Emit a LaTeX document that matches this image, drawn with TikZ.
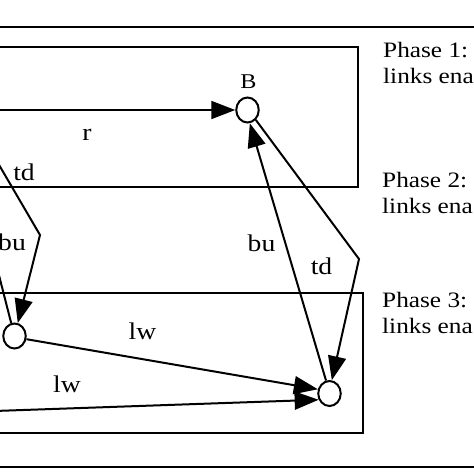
\documentclass[tikz,border=0pt]{standalone}
\usepackage{fontspec}
\setmainfont{Liberation Serif}[FakeStretch=1.15]
\usetikzlibrary{arrows.meta,shapes.geometric}
\begin{document}
\begin{tikzpicture}[x=1pt,y=-1pt,
  frame/.style={draw, line width=2.2pt},
  vertex/.style={draw, ellipse, line width=2pt, minimum width=22.5pt, minimum height=25pt, inner sep=0pt},
  edge/.style={line width=2pt, -{Triangle[length=24pt,width=18pt]}},
  plain/.style={line width=2pt},
  elabel/.style={font=\fontsize{24}{28}\selectfont, inner sep=0pt, anchor=base},
  phase/.style={font=\fontsize{22}{26}\selectfont, inner sep=0pt, anchor=base west},
]
\useasboundingbox (0,0) rectangle (474,474);
\fill[white] (0,0) rectangle (474,474);
% frames
\draw[frame] (-20,27) rectangle (494,467);
\draw[frame] (-20,47) rectangle (358,187);
\draw[frame] (-20,293) rectangle (363,433);
% nodes
\node[vertex] (B) at (247.5,110) {};
\node[vertex] (C) at (14.5,336) {};
\node[vertex] (D) at (329.5,393.5) {};
\node[elabel, font=\fontsize{21}{25}\selectfont] (Blab) at (248.5,88) {B};
% free ends
\coordinate (rS) at (-20,110);
\coordinate (tdS) at (-12,146);
\coordinate (tdK) at (40,235);
\coordinate (buS) at (-8,248);
\coordinate (lwS) at (-20,411.5);
\coordinate (tdK2) at (359,259);
% edges
\draw[edge] (rS) -- (B);
\draw[edge] (tdS) -- (tdK) -- (C);
\draw[plain] (C) -- (buS);
\draw[edge] (C.-15) -- (D.160);
\draw[edge] (lwS) -- (D.210);
\draw[edge] (D.105) -- (B.-80);
\draw[edge] (B.-50) -- (tdK2) -- (D.80);
% edge labels
\node[elabel] (lr) at (87,140) {r};
\node[elabel] (ltd1) at (24,180) {td};
\node[elabel] (lbu1) at (12,250) {bu};
\node[elabel] (llw1) at (142.5,339) {lw};
\node[elabel] (llw2) at (67,392) {lw};
\node[elabel] (lbu2) at (261.5,251) {bu};
\node[elabel] (ltd2) at (321.5,274) {td};
% phase texts
\node[phase] (p1) at (383,57) {Phase 1:};
\node[phase] (p1b) at (383,83) {links ena};
\node[phase] (p2) at (382,187) {Phase 2:};
\node[phase] (p2b) at (382,213) {links ena};
\node[phase] (p3) at (382,307) {Phase 3:};
\node[phase] (p3b) at (382,333) {links ena};
\end{tikzpicture}
\end{document}
